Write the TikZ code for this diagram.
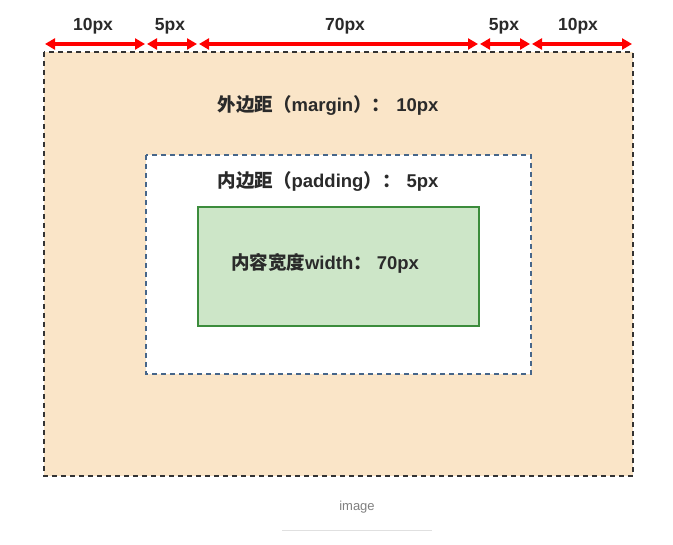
\documentclass[tikz,border=0pt]{standalone}
\usepackage{fontspec}
\setmainfont{Liberation Sans}
\newfontfamily\cjk{Noto Sans CJK SC}
\usetikzlibrary{arrows.meta}
\definecolor{marginfill}{HTML}{FAE5C8}
\definecolor{contentfill}{HTML}{CDE6C8}
\definecolor{contentline}{HTML}{3C8C3C}
\definecolor{padline}{HTML}{46668A}
\definecolor{outline}{HTML}{333333}
\definecolor{txt}{HTML}{2A2A2A}
\tikzset{
  dimarrow/.style={draw=red, line width=3.2pt, {Triangle[length=10pt,width=11pt]}-{Triangle[length=10pt,width=11pt]}, shorten <=1pt, shorten >=1pt},
  dimlabel/.style={font=\fontsize{17.5}{20}\selectfont\bfseries, text=txt},
  boxlabel/.style={font=\fontsize{18.5}{21}\selectfont\bfseries, text=txt},
  dashbox/.style={line width=2.2pt, dash pattern=on 5pt off 4pt},
}
\begin{document}
\begin{tikzpicture}[x=1pt,y=-1pt]
\useasboundingbox (0,0) rectangle (673,545);
\fill[white] (0,0) rectangle (673,545);
% boxes
\draw[dashbox, draw=outline, fill=marginfill] (44,52) rectangle (633,476);
\draw[dashbox, draw=padline, fill=white] (146,155) rectangle (531,374);
\draw[line width=2pt, draw=contentline, fill=contentfill] (198,207) rectangle (479,326);
% coordinates for dimension arrows
\coordinate (a0) at (44,44);
\coordinate (a1) at (146,44);
\coordinate (a2) at (198,44);
\coordinate (a3) at (479,44);
\coordinate (a4) at (531,44);
\coordinate (a5) at (633,44);
\draw[dimarrow] (a0) -- (a1);
\draw[dimarrow] (a1) -- (a2);
\draw[dimarrow] (a2) -- (a3);
\draw[dimarrow] (a3) -- (a4);
\draw[dimarrow] (a4) -- (a5);
\node[dimlabel] (l0) at (93,26) {10px};
\node[dimlabel] (l1) at (170,26) {5px};
\node[dimlabel] (l2) at (345,26) {70px};
\node[dimlabel] (l3) at (504,26) {5px};
\node[dimlabel] (l4) at (578,26) {10px};
% labels
\node[boxlabel] (margin) at (328,105) {{\cjk\bfseries 外边距（}margin{\cjk\bfseries ）：}\hspace{6pt}10px};
\node[boxlabel] (padding) at (328,181) {{\cjk\bfseries 内边距（}padding{\cjk\bfseries ）：}\hspace{6pt}5px};
\node[boxlabel] (content) at (325,263) {{\cjk\bfseries 内容宽度}width{\cjk\bfseries ：}\hspace{5pt}70px};
\node[font=\fontsize{13}{15}\selectfont, text=gray] (cap) at (357,507) {image};
\draw[black!12, line width=1pt] (282,531) -- (432,531);
\end{tikzpicture}
\end{document}
